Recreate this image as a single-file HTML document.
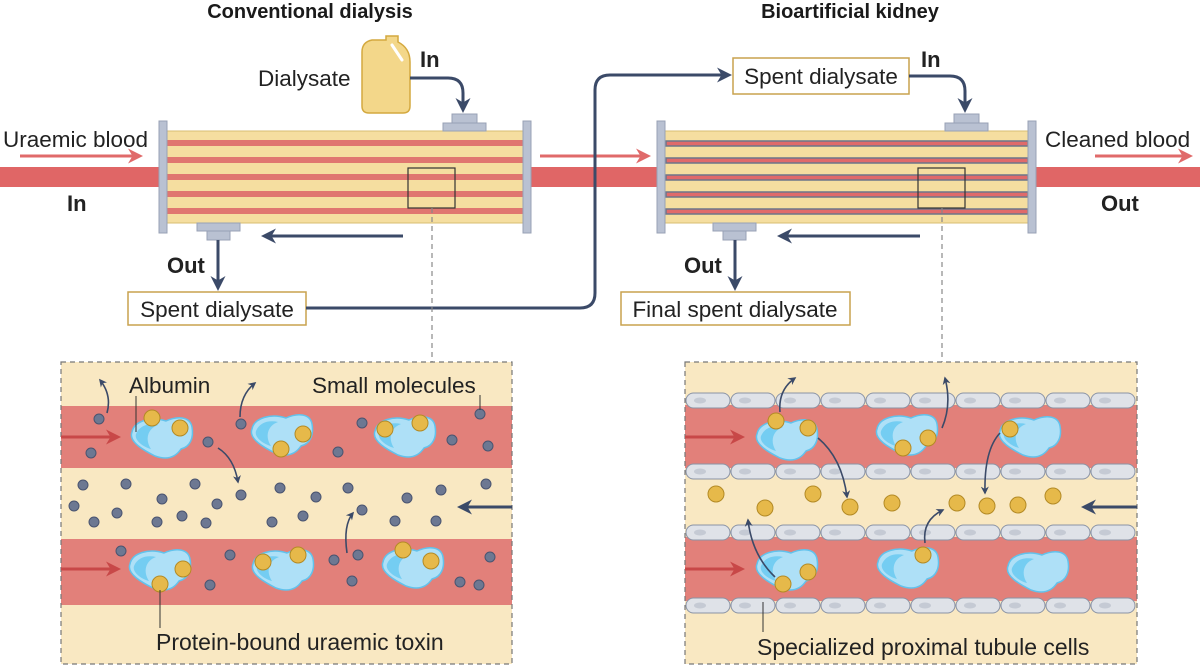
<!DOCTYPE html>
<html><head><meta charset="utf-8"><style>
html,body{margin:0;padding:0;background:#fff;}
svg{display:block;font-family:"Liberation Sans",sans-serif;}
</style></head><body>
<svg width="1200" height="666" viewBox="0 0 1200 666" xmlns="http://www.w3.org/2000/svg">
<defs>
<marker id="an" viewBox="0 0 10 10" refX="8" refY="5" markerWidth="5" markerHeight="5" orient="auto"><path d="M0,0 L10,5 L0,10 L3,5z" fill="#3b4a68"/></marker>
<marker id="ar" viewBox="0 0 10 10" refX="8" refY="5" markerWidth="5" markerHeight="5" orient="auto"><path d="M0,0 L10,5 L0,10 L3,5z" fill="#e06a6a"/></marker>
<marker id="ar2" viewBox="0 0 10 10" refX="8" refY="5" markerWidth="5" markerHeight="5" orient="auto"><path d="M0,0 L10,5 L0,10 L3,5z" fill="#c84848"/></marker>
<g id="blob"><path d="M-30,-6 C-28,-17 -11,-22 4,-17 C15,-22 28,-22 30,-11 C32,0 28,9 19,11 C13,20 4,22 -7,18 C-17,13 -34,4 -30,-6z" fill="#aee0f7" stroke="#62c2ec" stroke-width="1.5"/><path d="M-26,-4 C-22,-13 -13,-15 -4,-13 C-15,-9 -17,2 -11,11 C-19,9 -28,2 -26,-4z" fill="#74cdf2"/></g>
<g id="cell"><rect x="0" y="0" width="44" height="15" rx="7.5" fill="#dfe2e8" stroke="#8a93a5" stroke-width="1"/><ellipse cx="14" cy="7.5" rx="6" ry="3" fill="#c5cad4"/></g>
<circle id="tx" r="8" fill="#e6b94a" stroke="#b38a25" stroke-width="1"/>
<circle id="sm" r="5" fill="#6d7892" stroke="#4a5470" stroke-width="1"/>
</defs>

<text x="310" y="18" font-size="20" font-weight="bold" text-anchor="middle" fill="#1a1a1a">Conventional dialysis</text>
<text x="850" y="18" font-size="20" font-weight="bold" text-anchor="middle" fill="#1a1a1a">Bioartificial kidney</text>

<rect x="0" y="167" width="1200" height="20" fill="#e06666"/>
<text x="3" y="147" font-size="22.5" fill="#222">Uraemic blood</text>
<line x1="20" y1="156" x2="140" y2="156" stroke="#e06a6a" stroke-width="3" marker-end="url(#ar)"/>
<text x="67" y="211" font-size="22" font-weight="bold" fill="#222">In</text>
<line x1="540" y1="156" x2="648" y2="156" stroke="#e06a6a" stroke-width="3" marker-end="url(#ar)"/>
<text x="1045" y="147" font-size="22.5" fill="#222">Cleaned blood</text>
<line x1="1095" y1="156" x2="1190" y2="156" stroke="#e06a6a" stroke-width="3" marker-end="url(#ar)"/>
<text x="1101" y="211" font-size="22" font-weight="bold" fill="#222">Out</text>

<rect x="166" y="131" width="358" height="92" fill="#f5dea0" stroke="#d8bd72" stroke-width="1"/>
<g fill="#e07670">
<rect x="167" y="140" width="356" height="6"/><rect x="167" y="157" width="356" height="6"/><rect x="167" y="174" width="356" height="6"/><rect x="167" y="191" width="356" height="6"/><rect x="167" y="208" width="356" height="6"/>
</g>
<rect x="159" y="121" width="8" height="112" fill="#b9c1d2" stroke="#98a1b5"/>
<rect x="523" y="121" width="8" height="112" fill="#b9c1d2" stroke="#98a1b5"/>
<rect x="443" y="123" width="43" height="8" fill="#b9c1d2" stroke="#98a1b5"/>
<rect x="452" y="114" width="25" height="9" fill="#b9c1d2" stroke="#98a1b5"/>
<rect x="197" y="223" width="43" height="8" fill="#b9c1d2" stroke="#98a1b5"/>
<rect x="207" y="231" width="23" height="9" fill="#b9c1d2" stroke="#98a1b5"/>
<rect x="408" y="168" width="47" height="40" fill="none" stroke="#333" stroke-width="1.2"/>
<line x1="403" y1="236" x2="264" y2="236" stroke="#3b4a68" stroke-width="3" marker-end="url(#an)"/>
<line x1="218" y1="240" x2="218" y2="288" stroke="#3b4a68" stroke-width="3" marker-end="url(#an)"/>
<text x="167" y="273" font-size="22" font-weight="bold" fill="#222">Out</text>
<rect x="128" y="292" width="178" height="33" fill="#fff" stroke="#c9a24e" stroke-width="1.5"/>
<text x="217" y="317" font-size="22.5" text-anchor="middle" fill="#222">Spent dialysate</text>

<path d="M362,52 Q362,42 372,40 L386,40 L386,36 L398,36 L398,42 Q410,48 410,62 L410,106 Q410,113 403,113 L369,113 Q362,113 362,106z" fill="#f3d78a" stroke="#d4a93f" stroke-width="1.5"/>
<line x1="392" y1="45" x2="402" y2="60" stroke="#fff" stroke-width="3" stroke-linecap="round"/>
<text x="258" y="86" font-size="22.5" fill="#222">Dialysate</text>
<text x="420" y="67" font-size="22" font-weight="bold" fill="#222">In</text>
<path d="M410,78 L448,78 Q463,78 463,93 L463,110" fill="none" stroke="#3b4a68" stroke-width="3" marker-end="url(#an)"/>

<path d="M306,308 L580,308 Q595,308 595,293 L595,90 Q595,75 610,75 L729,75" fill="none" stroke="#3b4a68" stroke-width="3" marker-end="url(#an)"/>

<rect x="665" y="131" width="364" height="92" fill="#f5dea0" stroke="#d8bd72" stroke-width="1"/>
<g fill="#e06a6a" stroke="#6d7589" stroke-width="1.5">
<rect x="666" y="141" width="362" height="5"/><rect x="666" y="158" width="362" height="5"/><rect x="666" y="175" width="362" height="5"/><rect x="666" y="192" width="362" height="5"/><rect x="666" y="209" width="362" height="5"/>
</g>
<rect x="657" y="121" width="8" height="112" fill="#b9c1d2" stroke="#98a1b5"/>
<rect x="1028" y="121" width="8" height="112" fill="#b9c1d2" stroke="#98a1b5"/>
<rect x="945" y="123" width="43" height="8" fill="#b9c1d2" stroke="#98a1b5"/>
<rect x="954" y="114" width="25" height="9" fill="#b9c1d2" stroke="#98a1b5"/>
<rect x="713" y="223" width="43" height="8" fill="#b9c1d2" stroke="#98a1b5"/>
<rect x="723" y="231" width="23" height="9" fill="#b9c1d2" stroke="#98a1b5"/>
<rect x="918" y="168" width="47" height="40" fill="none" stroke="#333" stroke-width="1.2"/>
<line x1="920" y1="236" x2="780" y2="236" stroke="#3b4a68" stroke-width="3" marker-end="url(#an)"/>
<line x1="735" y1="240" x2="735" y2="288" stroke="#3b4a68" stroke-width="3" marker-end="url(#an)"/>
<text x="684" y="273" font-size="22" font-weight="bold" fill="#222">Out</text>
<rect x="621" y="292" width="229" height="33" fill="#fff" stroke="#c9a24e" stroke-width="1.5"/>
<text x="735" y="317" font-size="22.5" text-anchor="middle" fill="#222">Final spent dialysate</text>
<rect x="733" y="58" width="176" height="36" fill="#fff" stroke="#c9a24e" stroke-width="1.5"/>
<text x="821" y="84" font-size="22.5" text-anchor="middle" fill="#222">Spent dialysate</text>
<text x="921" y="67" font-size="22" font-weight="bold" fill="#222">In</text>
<path d="M909,76 L950,76 Q965,76 965,91 L965,110" fill="none" stroke="#3b4a68" stroke-width="3" marker-end="url(#an)"/>

<line x1="432" y1="208" x2="432" y2="362" stroke="#888" stroke-width="1.2" stroke-dasharray="5,4"/>
<line x1="942" y1="208" x2="942" y2="362" stroke="#888" stroke-width="1.2" stroke-dasharray="5,4"/>

<!-- LEFT PANEL -->
<rect x="61" y="362" width="451" height="302" fill="#f9e8c2"/>
<rect x="61" y="406" width="451" height="62" fill="#e2807a"/>
<rect x="61" y="539" width="451" height="66" fill="#e2807a"/>
<rect x="61" y="362" width="451" height="302" fill="none" stroke="#777" stroke-width="1.2" stroke-dasharray="5,4"/>
<line x1="61" y1="437" x2="118" y2="437" stroke="#c84848" stroke-width="3" marker-end="url(#ar2)"/>
<line x1="61" y1="569" x2="118" y2="569" stroke="#c84848" stroke-width="3" marker-end="url(#ar2)"/>
<line x1="512" y1="507" x2="460" y2="507" stroke="#3b4a68" stroke-width="3" marker-end="url(#an)"/>
<use href="#blob" x="162" y="438"/><use href="#blob" x="282" y="435"/><use href="#blob" x="405" y="437"/>
<use href="#blob" x="160" y="570"/><use href="#blob" x="283" y="570"/><use href="#blob" x="413" y="568"/>
<g>
<use href="#tx" x="152" y="418"/><use href="#tx" x="180" y="428"/><use href="#tx" x="303" y="434"/><use href="#tx" x="281" y="449"/><use href="#tx" x="385" y="429"/><use href="#tx" x="420" y="423"/>
<use href="#tx" x="183" y="569"/><use href="#tx" x="160" y="584"/><use href="#tx" x="263" y="562"/><use href="#tx" x="298" y="555"/><use href="#tx" x="403" y="550"/><use href="#tx" x="431" y="561"/>
</g>
<g>
<use href="#sm" x="99" y="419"/><use href="#sm" x="91" y="453"/><use href="#sm" x="208" y="442"/><use href="#sm" x="241" y="424"/><use href="#sm" x="338" y="452"/><use href="#sm" x="362" y="423"/><use href="#sm" x="452" y="440"/><use href="#sm" x="488" y="446"/><use href="#sm" x="480" y="414"/>
<use href="#sm" x="83" y="485"/><use href="#sm" x="126" y="484"/><use href="#sm" x="195" y="484"/><use href="#sm" x="74" y="506"/><use href="#sm" x="94" y="522"/><use href="#sm" x="117" y="513"/><use href="#sm" x="162" y="499"/><use href="#sm" x="157" y="522"/><use href="#sm" x="182" y="516"/><use href="#sm" x="206" y="523"/><use href="#sm" x="217" y="504"/><use href="#sm" x="241" y="495"/><use href="#sm" x="280" y="488"/><use href="#sm" x="316" y="497"/><use href="#sm" x="348" y="488"/><use href="#sm" x="272" y="522"/><use href="#sm" x="303" y="516"/><use href="#sm" x="362" y="510"/><use href="#sm" x="407" y="498"/><use href="#sm" x="441" y="490"/><use href="#sm" x="486" y="484"/><use href="#sm" x="395" y="521"/><use href="#sm" x="436" y="521"/>
<use href="#sm" x="121" y="551"/><use href="#sm" x="230" y="555"/><use href="#sm" x="210" y="585"/><use href="#sm" x="334" y="560"/><use href="#sm" x="358" y="555"/><use href="#sm" x="352" y="581"/><use href="#sm" x="460" y="582"/><use href="#sm" x="479" y="585"/><use href="#sm" x="490" y="557"/>
</g>
<g fill="none" stroke="#3b4a68" stroke-width="1.6" marker-end="url(#an)">
<path d="M107,413 Q112,395 100,380"/><path d="M240,417 Q240,395 255,383"/><path d="M218,448 Q234,458 238,482"/><path d="M347,553 Q343,525 353,513"/>
</g>
<g stroke="#333" stroke-width="1">
<line x1="136" y1="396" x2="136" y2="432"/><line x1="480" y1="395" x2="480" y2="410"/><line x1="160" y1="590" x2="160" y2="628"/>
</g>
<text x="129" y="393" font-size="22.5" fill="#222">Albumin</text>
<text x="312" y="393" font-size="22.5" fill="#222">Small molecules</text>
<text x="156" y="650" font-size="23" fill="#222">Protein-bound uraemic toxin</text>

<!-- RIGHT PANEL -->
<rect x="685" y="362" width="452" height="302" fill="#f9e8c2"/>
<rect x="685" y="405" width="452" height="63" fill="#e2807a"/>
<rect x="685" y="537" width="452" height="64" fill="#e2807a"/>
<g>
<use href="#cell" x="686" y="393"/><use href="#cell" x="731" y="393"/><use href="#cell" x="776" y="393"/><use href="#cell" x="821" y="393"/><use href="#cell" x="866" y="393"/><use href="#cell" x="911" y="393"/><use href="#cell" x="956" y="393"/><use href="#cell" x="1001" y="393"/><use href="#cell" x="1046" y="393"/><use href="#cell" x="1091" y="393"/>
<use href="#cell" x="686" y="464"/><use href="#cell" x="731" y="464"/><use href="#cell" x="776" y="464"/><use href="#cell" x="821" y="464"/><use href="#cell" x="866" y="464"/><use href="#cell" x="911" y="464"/><use href="#cell" x="956" y="464"/><use href="#cell" x="1001" y="464"/><use href="#cell" x="1046" y="464"/><use href="#cell" x="1091" y="464"/>
<use href="#cell" x="686" y="525"/><use href="#cell" x="731" y="525"/><use href="#cell" x="776" y="525"/><use href="#cell" x="821" y="525"/><use href="#cell" x="866" y="525"/><use href="#cell" x="911" y="525"/><use href="#cell" x="956" y="525"/><use href="#cell" x="1001" y="525"/><use href="#cell" x="1046" y="525"/><use href="#cell" x="1091" y="525"/>
<use href="#cell" x="686" y="598"/><use href="#cell" x="731" y="598"/><use href="#cell" x="776" y="598"/><use href="#cell" x="821" y="598"/><use href="#cell" x="866" y="598"/><use href="#cell" x="911" y="598"/><use href="#cell" x="956" y="598"/><use href="#cell" x="1001" y="598"/><use href="#cell" x="1046" y="598"/><use href="#cell" x="1091" y="598"/>
</g>
<rect x="685" y="362" width="452" height="302" fill="none" stroke="#777" stroke-width="1.2" stroke-dasharray="5,4"/>
<line x1="685" y1="437" x2="742" y2="437" stroke="#c84848" stroke-width="3" marker-end="url(#ar2)"/>
<line x1="685" y1="569" x2="742" y2="569" stroke="#c84848" stroke-width="3" marker-end="url(#ar2)"/>
<line x1="1137" y1="507" x2="1084" y2="507" stroke="#3b4a68" stroke-width="3" marker-end="url(#an)"/>
<use href="#blob" x="787" y="440"/><use href="#blob" x="907" y="435"/><use href="#blob" x="1030" y="437"/>
<use href="#blob" x="787" y="570"/><use href="#blob" x="908" y="568"/><use href="#blob" x="1038" y="572"/>
<g>
<use href="#tx" x="776" y="421"/><use href="#tx" x="808" y="428"/><use href="#tx" x="903" y="448"/><use href="#tx" x="928" y="438"/><use href="#tx" x="1010" y="429"/>
<use href="#tx" x="783" y="584"/><use href="#tx" x="808" y="572"/><use href="#tx" x="923" y="555"/>
<use href="#tx" x="716" y="494"/><use href="#tx" x="765" y="508"/><use href="#tx" x="813" y="494"/><use href="#tx" x="850" y="507"/><use href="#tx" x="892" y="503"/><use href="#tx" x="957" y="503"/><use href="#tx" x="987" y="506"/><use href="#tx" x="1018" y="505"/><use href="#tx" x="1053" y="496"/>
</g>
<g fill="none" stroke="#3b4a68" stroke-width="1.6" marker-end="url(#an)">
<path d="M780,412 Q778,390 795,378"/><path d="M942,428 Q952,405 945,378"/><path d="M818,438 Q842,458 847,497"/><path d="M1000,433 Q984,450 985,493"/><path d="M775,577 Q752,555 748,520"/><path d="M925,543 Q922,520 943,510"/>
</g>
<line x1="763" y1="602" x2="763" y2="632" stroke="#333" stroke-width="1"/>
<text x="757" y="655" font-size="23" fill="#222">Specialized proximal tubule cells</text>
</svg>
</body></html>
